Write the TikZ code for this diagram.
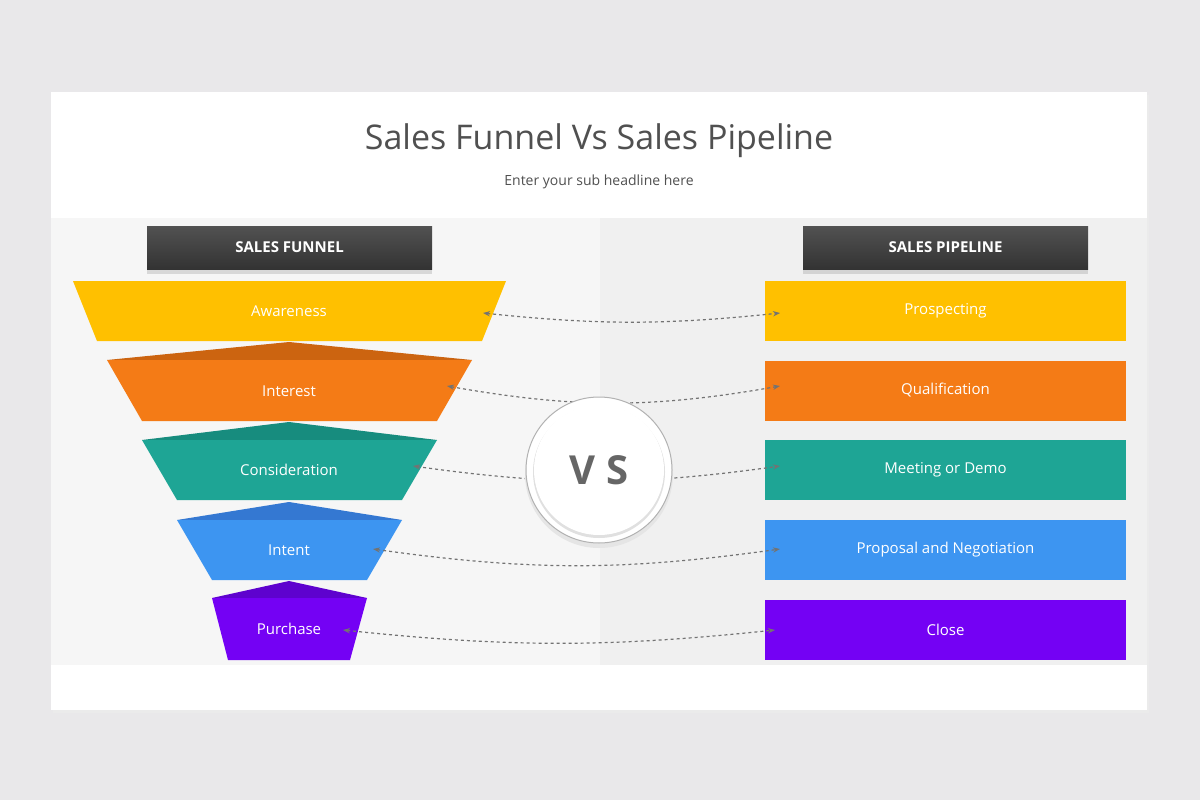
\documentclass[tikz,border=0pt]{standalone}
\usepackage{fontspec}
\setmainfont{Open Sans}
\usetikzlibrary{positioning,arrows.meta,shadows}
\definecolor{pagebg}{HTML}{E9E8EA}
\definecolor{bandL}{HTML}{F6F6F6}
\definecolor{bandR}{HTML}{F0F0F0}
\definecolor{titlegrey}{HTML}{505050}
\definecolor{cYellow}{HTML}{FFC000}
\definecolor{cOrange}{HTML}{F47B16}
\definecolor{cTeal}{HTML}{1EA595}
\definecolor{cBlue}{HTML}{3D95F1}
\definecolor{cPurple}{HTML}{7401F4}
\definecolor{dOrange}{HTML}{CC6410}
\definecolor{dTeal}{HTML}{178C7E}
\definecolor{dBlue}{HTML}{3478D2}
\definecolor{dPurple}{HTML}{5E02CE}
\tikzset{
    label/.style={text=white, font=\fontsize{15}{18}\selectfont},
    header/.style={minimum width=285pt, minimum height=43pt, inner sep=0pt,
        top color=black!68, bottom color=black!80, text=white,
        font=\bfseries\fontsize{15}{18}\selectfont,
        drop shadow={shadow xshift=0pt, shadow yshift=-5pt, opacity=0.25}},
    stage/.style={minimum width=361pt, minimum height=60pt, inner sep=0pt,
        fill=#1, text=white, font=\fontsize{15}{18}\selectfont},
    link/.style={draw=black!55, dashed, line width=1.2pt, {Stealth[length=7pt]}-{Stealth[length=7pt]}}
}
\begin{document}
\begin{tikzpicture}[x=1pt, y=-1pt]
    % background and slide
    \fill[pagebg] (0,0) rectangle (1200,800);
    \fill[black!8] (53,95) rectangle (1149,713);
    \fill[white] (51,92) rectangle (1147,710);
    \fill[bandL] (51,218) rectangle (600,665);
    \fill[bandR] (600,218) rectangle (1147,665);
    \useasboundingbox (0,0) rectangle (1200,800);

    % title
    \node[text=titlegrey, font=\fontsize{34}{40}\selectfont] (title) at (599,141) {Sales Funnel Vs Sales Pipeline};
    \node[text=titlegrey, font=\fontsize{14}{17}\selectfont] (sub) at (599,182) {Enter your sub headline here};

    % headers
    \node[header] (hfunnel) at (289.5,247.5) {SALES FUNNEL};
    \node[header] (hpipe) at (945.5,247.5) {SALES PIPELINE};

    % funnel
    \fill[cYellow] (73,281) -- (506,281) -- (482,341) -- (97,341) -- cycle;
    \fill[dOrange] (107,360) -- (289,342) -- (472,360) -- cycle;
    \fill[cOrange] (107,360) -- (472,360) -- (437,421) -- (142,421) -- cycle;
    \fill[dTeal] (142,440) -- (289,422) -- (437,440) -- cycle;
    \fill[cTeal] (142,440) -- (437,440) -- (402,500) -- (177,500) -- cycle;
    \fill[dBlue] (177,520) -- (289,502) -- (402,520) -- cycle;
    \fill[cBlue] (177,520) -- (402,520) -- (367,580) -- (212,580) -- cycle;
    \fill[dPurple] (212,598) -- (289,581) -- (367,598) -- cycle;
    \fill[cPurple] (212,598) -- (367,598) -- (350,660) -- (228,660) -- cycle;
    \node[label] (awareness) at (289,311) {Awareness};
    \node[label] (interest) at (289,391) {Interest};
    \node[label] (consideration) at (289,470) {Consideration};
    \node[label] (intent) at (289,550) {Intent};
    \node[label] (purchase) at (289,629) {Purchase};

    % pipeline
    \node[stage=cYellow] (prospecting) at (945.5,311) {Prospecting};
    \node[stage=cOrange] (qualification) at (945.5,390.5) {Qualification};
    \node[stage=cTeal] (meeting) at (945.5,470) {Meeting or Demo};
    \node[stage=cBlue] (proposal) at (945.5,550) {Proposal and Negotiation};
    \node[stage=cPurple] (close) at (945.5,630) {Close};

    % connectors
    \coordinate (a1) at (483,313); \coordinate (b1) at (780,313);
    \coordinate (a2) at (447,386); \coordinate (b2) at (780,386);
    \coordinate (a3) at (413,466); \coordinate (b3) at (780,466);
    \coordinate (a4) at (373,549); \coordinate (b4) at (780,549);
    \coordinate (a5) at (343,630); \coordinate (b5) at (775,630);
    \draw[link] (a1) to[bend right=6] (b1);
    \draw[link] (a2) to[bend right=10] (b2);
    \draw[link] (a3) to[bend right=8] (b3);
    \draw[link] (a4) to[bend right=8] (b4);
    \draw[link] (a5) to[bend right=6] (b5);

    % vs circle
    \fill[black!10] (599,474) circle (74);
    \draw[black!30, fill=white, line width=1pt] (599,470) circle (73);
    \fill[black!12] (599,472) circle (66);
    \fill[white] (599,470) circle (65);
    \node[text=black!60, font=\bfseries\fontsize{40}{46}\selectfont] (vs) at (599,470) {V S};
\end{tikzpicture}
\end{document}
